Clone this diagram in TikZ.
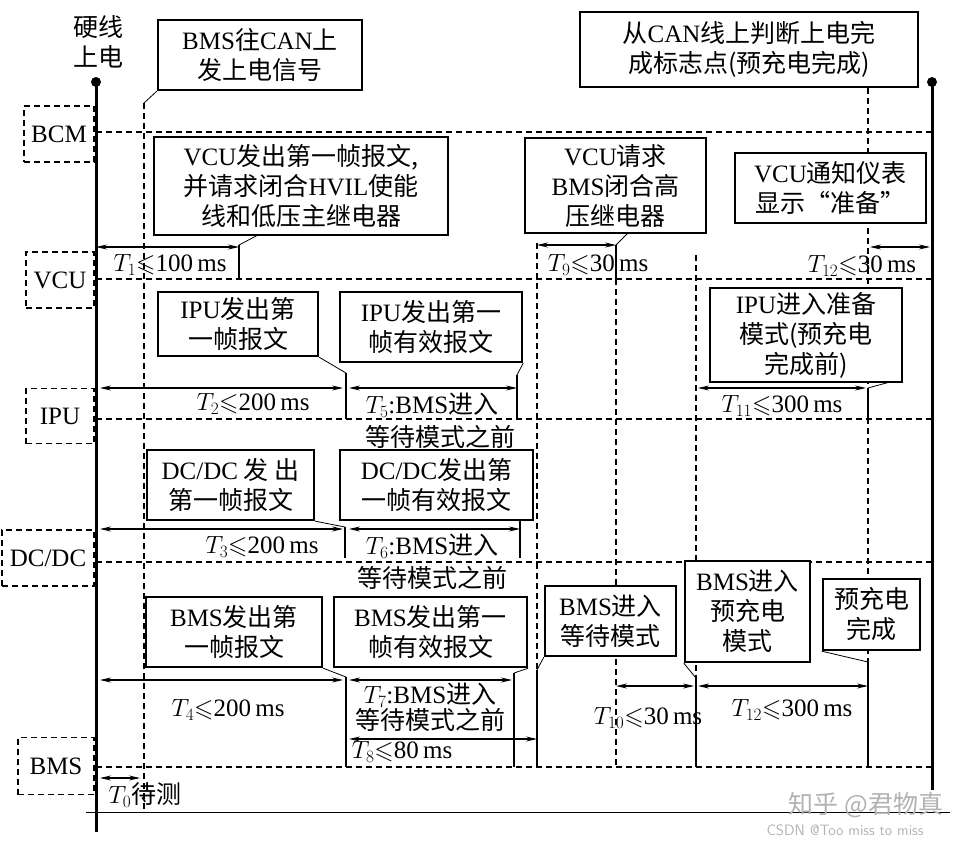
\documentclass[tikz,border=0pt]{standalone}
\usepackage{amssymb}
\usepackage{fontspec}
\setmainfont{Noto Sans CJK SC}
\newfontfamily\lat{Liberation Serif}
\usetikzlibrary{arrows.meta}
\newcommand{\lqs}{\mbox{$\leqslant$}}
\begin{document}
\begin{tikzpicture}[x=1pt,y=-1pt,
  every node/.style={font=\fontsize{25}{30}\selectfont, inner sep=0pt, align=center},
  bx/.style={draw, line width=2.4pt, fill=white},
  lbl/.style={draw, line width=1.2pt, dash pattern=on 6pt off 4pt},
  grid/.style={line width=1.2pt, dash pattern=on 6pt off 4pt},
  ptr/.style={line width=0.8pt},
  solidv/.style={line width=2pt},
  dim/.style={line width=1.1pt, {Stealth[length=11pt,width=5pt]}-{Stealth[length=11pt,width=5pt]}},
  main/.style={line width=3pt}]
\useasboundingbox (0,0) rectangle (970,847);
% grid lines
\foreach \y in {132,279,419,562,767} \draw[grid] (96,\y) -- (932,\y);
\draw[grid] (144,103) -- (144,812);
\draw[grid] (537,243) -- (537,767);
\draw[grid] (616,279) -- (616,767);
\draw[grid] (696,255) -- (696,767);
\draw[grid] (868,88) -- (868,767);
% main lines
\draw[line width=1pt] (86,812) -- (950,812);
\draw[main] (96,82) -- (96,832);
\draw[main] (932,82) -- (932,790);
\fill (96,82) circle (5pt);
\fill (932,82) circle (5pt);
\node (hw) at (98,42) {硬线\\上电};
% label boxes
\node[lbl, minimum width=70pt, minimum height=56pt] (lbcm) at (59,134) {};
\node at (59,134) {\lat BCM};
\node[lbl, minimum width=68pt, minimum height=56pt] (lvcu) at (60,280) {};
\node at (60,280) {\lat VCU};
\node[lbl, minimum width=68pt, minimum height=55pt] (lipu) at (60,416) {};
\node at (60,416) {\lat IPU};
\node[lbl, minimum width=92pt, minimum height=56pt] (ldc) at (48,558) {};
\node at (48,558) {\lat DC/DC};
\node[lbl, minimum width=76pt, minimum height=57pt] (lbms) at (56,766) {};
\node at (56,766) {\lat BMS};
% pointers and solid verticals
\coordinate (p1) at (144,103);
\coordinate (p2a) at (239,245); \coordinate (p2b) at (239,279);
\coordinate (p3a) at (616,245); \coordinate (p3b) at (616,279);
\coordinate (p5a) at (346,373); \coordinate (p5b) at (346,419);
\coordinate (p6a) at (517,375); \coordinate (p6b) at (517,419);
\coordinate (p7a) at (868,388); \coordinate (p7b) at (868,419);
\coordinate (p8a) at (345,527); \coordinate (p8b) at (345,558);
\coordinate (p9a) at (520,520); \coordinate (p9b) at (520,558);
\coordinate (p10a) at (346,677); \coordinate (p10b) at (346,767);
\coordinate (p11a) at (514,673); \coordinate (p11b) at (514,767);
\coordinate (p12a) at (537,670); \coordinate (p12b) at (537,767);
\coordinate (p13a) at (696,678); \coordinate (p13b) at (696,767);
\coordinate (p14a) at (868,662); \coordinate (p14b) at (868,767);
\draw[solidv] (p2a)--(p2b); \draw[solidv] (p3a)--(p3b);
\draw[solidv] (p5a)--(p5b); \draw[solidv] (p6a)--(p6b);
\draw[solidv] (p7a)--(p7b); \draw[solidv] (p8a)--(p8b);
\draw[solidv] (p9a)--(p9b); \draw[solidv] (p10a)--(p10b);
\draw[solidv] (p11a)--(p11b); \draw[solidv] (p12a)--(p12b);
\draw[solidv] (p13a)--(p13b); \draw[solidv] (p14a)--(p14b);
% boxes
\node[bx, minimum width=204pt, minimum height=70pt] (b1) at (260,55) {{\lat BMS}往{\lat CAN}上\\发上电信号};
\node[bx, minimum width=294pt, minimum height=98pt] (b2) at (301,186) {{\lat VCU}发出第一帧报文,\\并请求闭合{\lat HVIL}使能\\线和低压主继电器};
\node[bx, minimum width=181pt, minimum height=95pt] (b3) at (615.5,185.5) {{\lat VCU}请求\\{\lat BMS}闭合高\\压继电器};
\node[bx, minimum width=191pt, minimum height=70pt] (b4) at (830.5,188) {{\lat VCU}通知仪表\\显示“准备”};
\node[bx, minimum width=160pt, minimum height=64pt] (b5) at (238,324) {{\lat IPU}发出第\\一帧报文};
\node[bx, minimum width=182pt, minimum height=70pt] (b6) at (431,327) {{\lat IPU}发出第一\\帧有效报文};
\node[bx, minimum width=192pt, minimum height=94pt] (b7) at (806,335) {{\lat IPU}进入准备\\模式(预充电\\完成前)};
\node[bx, minimum width=167pt, minimum height=70pt] (b8) at (230.5,485) {{\lat DC/DC} 发 出\\第一帧报文};
\node[bx, minimum width=193pt, minimum height=70pt] (b9) at (436.5,485) {{\lat DC/DC}发出第\\一帧有效报文};
\node[bx, minimum width=176pt, minimum height=70pt] (b10) at (234,632) {{\lat BMS}发出第\\一帧报文};
\node[bx, minimum width=193pt, minimum height=70pt] (b11) at (430.5,632) {{\lat BMS}发出第一\\帧有效报文};
\node[bx, minimum width=131pt, minimum height=70pt] (b12) at (610.5,621) {{\lat BMS}进入\\等待模式};
\node[bx, minimum width=125pt, minimum height=101pt] (b13) at (747.5,611.5) {{\lat BMS}进入\\预充电\\模式};
\node[bx, minimum width=97pt, minimum height=71pt] (b14) at (871.5,614.5) {预充电\\完成};
\node[bx, minimum width=338pt, minimum height=75pt] (b15) at (749,49.5) {从{\lat CAN}线上判断上电完\\成标志点(预充电完成)};
% callout pointers
\draw[ptr] (b1.south west) -- (p1);
\draw[ptr] (258,235) -- (p2a);
\draw[ptr] (628,233) -- (p3a);
\draw[ptr] (b5.south east) -- (p5a);
\draw[ptr] (b6.south east) -- (p6a);
\draw[ptr] (890,382) -- (p7a);
\draw[ptr] (b8.south east) -- (p8a);
\draw[ptr] (b10.south east) -- (p10a);
\draw[ptr] (b11.south east) -- (p11a);
\draw[ptr] (b12.south west) -- (p12a);
\draw[ptr] (b13.south west) -- (p13a);
\draw[ptr] (b14.south west) -- (p14a);
% dimension arrows
\coordinate (d1a) at (96,247); \coordinate (d1b) at (239,247);
\draw[dim] (d1a) -- (d1b);
\node (t1) at (170,265) {$T_1$\lqs{\lat 100\,ms}};
\coordinate (d9a) at (537,245); \coordinate (d9b) at (616,245);
\draw[dim] (d9a) -- (d9b);
\node (t9) at (598,265) {$T_9$\lqs{\lat 30\,ms}};
\coordinate (d12a) at (870,247); \coordinate (d12b) at (930,247);
\draw[dim] (d12a) -- (d12b);
\node (t12) at (862,266) {$T_{12}$\lqs{\lat 30\,ms}};
\draw[dim] (100,388) -- (343,388);
\node (t2) at (253,404) {$T_2$\lqs{\lat 200\,ms}};
\draw[dim] (349,388) -- (517,388);
\node (t5) at (432,405) {$T_5${\lat :BMS}进入};
\node (t5b) at (440,437) {等待模式之前};
\draw[dim] (698,388) -- (866,388);
\node (t11) at (782,406) {$T_{11}$\lqs{\lat 300\,ms}};
\draw[dim] (100,529) -- (343,529);
\node (t3) at (262,547) {$T_3$\lqs{\lat 200\,ms}};
\draw[dim] (349,529) -- (520,529);
\node (t6) at (432,546) {$T_6${\lat :BMS}进入};
\node (t6b) at (432,578) {等待模式之前};
\draw[dim] (100,680) -- (343,680);
\node (t4) at (228,710) {$T_4$\lqs{\lat 200\,ms}};
\draw[dim] (349,680) -- (512,680);
\node (t7) at (430,695) {$T_7${\lat :BMS}进入};
\node (t7b) at (430,720) {等待模式之前};
\draw[dim] (349,739) -- (537,739);
\node (t8) at (402,752) {$T_8$\lqs{\lat 80\,ms}};
\draw[dim] (616,686) -- (694,686);
\node (t10) at (648,718) {$T_{10}$\lqs{\lat 30\,ms}};
\draw[dim] (698,686) -- (868,686);
\node (t12b) at (792,710) {$T_{12}$\lqs{\lat 300\,ms}};
\draw[dim] (100,778) -- (140,778);
\node (t0) at (145,795) {$T_0$待测};
% watermark
\node[text=gray!60] (wm1) at (866,805) {知乎 @君物真};
\node[text=gray!60, font=\fontsize{15}{18}\selectfont\sffamily] (wm2) at (845,830) {CSDN @Too miss to miss};
\end{tikzpicture}
\end{document}
